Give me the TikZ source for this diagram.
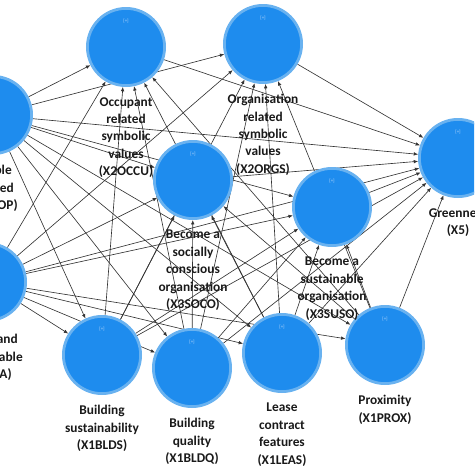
\documentclass[tikz,border=0pt]{standalone}
\usepackage{fontspec}
\setmainfont{Carlito}
\usetikzlibrary{arrows.meta,positioning,backgrounds}
\definecolor{lvfill}{RGB}{30,140,238}
\definecolor{lvrim}{RGB}{105,178,240}
\definecolor{plustext}{RGB}{175,212,250}
\tikzset{
  lv/.style={circle,fill=lvfill,draw=lvrim,line width=0.7mm,minimum size=19.3mm,inner sep=0pt,
    label={[plusmark,anchor=center,label distance=-3.5mm]90:{[+]}}},
  plusmark/.style={font=\fontsize{3.5}{4}\selectfont,text=plustext,inner sep=0pt},
  lvtext/.style={align=center,inner sep=0pt,text=black!90,font=\fontsize{9.5}{12.4}\selectfont\bfseries},
  conn/.style={draw=black!80,line width=0.45pt,-{Latex[length=1.1mm,width=0.9mm]}}
}
\begin{document}
\begin{tikzpicture}[x=0.25mm,y=-0.25mm]
\useasboundingbox (0,0) rectangle (474,474);
\clip (0,0) rectangle (474,474);
% latent variables
\node[lv] (lt) at (-7,115) {};
\node[lv] (lb) at (-13,282) {};
\node[lv] (occu) at (126,47) {};
\node[lv] (orgs) at (263,44) {};
\node[lv] (soco) at (193,180) {};
\node[lv] (suso) at (332,207) {};
\node[lv] (green) at (458,158) {};
\node[lv] (blds) at (102,355) {};
\node[lv] (bldq) at (192,368) {};
\node[lv] (leas) at (282,353) {};
\node[lv] (prox) at (385,345) {};
% names
\node[lvtext,align=right,anchor=north east] (lt-l) at (18,165) {ple\kern1.5mm\\ed\kern1mm\\OP)};
\node[lvtext,align=right,anchor=north east] (lb-l) at (23,334) {and\kern1.25mm\\able\\A)\kern2.75mm};
\node[lvtext,below=2.5mm of occu] (occu-l) {Occupant\\related\\symbolic\\values\\(X2OCCU)};
\node[lvtext,below=2.5mm of orgs] (orgs-l) {Organisation\\related\\symbolic\\values\\(X2ORGS)};
\node[lvtext,below=2.5mm of soco] (soco-l) {Become a\\socially\\conscious\\organisation\\(X3SOCO)};
\node[lvtext,below=2.5mm of suso] (suso-l) {Become a\\sustainable\\organisation\\(X3SUSO)};
\node[lvtext,below=2.5mm of green] (green-l) {Greenness\\(X5)};
\node[lvtext,below=2.5mm of blds] (blds-l) {Building\\sustainability\\(X1BLDS)};
\node[lvtext,below=2.5mm of bldq] (bldq-l) {Building\\quality\\(X1BLDQ)};
\node[lvtext,below=2.5mm of leas] (leas-l) {Lease\\contract\\features\\(X1LEAS)};
\node[lvtext,below=2.5mm of prox] (prox-l) {Proximity\\(X1PROX)};
% paths
\begin{scope}[on background layer]
\draw[conn] (lt) -- (occu);
\draw[conn] (lt) -- (orgs);
\draw[conn] (lt) -- (soco);
\draw[conn] (lt) -- (suso);
\draw[conn] (lt) -- (green);
\draw[conn] (lt) -- (blds);
\draw[conn] (lt) -- (bldq);
\draw[conn] (lt) -- (leas);
\draw[conn] (lt) -- (prox);
\draw[conn] (lb) -- (occu);
\draw[conn] (lb) -- (orgs);
\draw[conn] (lb) -- (soco);
\draw[conn] (lb) -- (suso);
\draw[conn] (lb) -- (green);
\draw[conn] (lb) -- (blds);
\draw[conn] (lb) -- (bldq);
\draw[conn] (lb) -- (leas);
\draw[conn] (lb) -- (prox);
\draw[conn] (blds) -- (occu);
\draw[conn] (blds) -- (orgs);
\draw[conn] (blds) -- (soco);
\draw[conn] (blds) -- (suso);
\draw[conn] (blds) -- (green);
\draw[conn] (bldq) -- (occu);
\draw[conn] (bldq) -- (orgs);
\draw[conn] (bldq) -- (soco);
\draw[conn] (bldq) -- (suso);
\draw[conn] (bldq) -- (green);
\draw[conn] (leas) -- (occu);
\draw[conn] (leas) -- (orgs);
\draw[conn] (leas) -- (soco);
\draw[conn] (leas) -- (suso);
\draw[conn] (leas) -- (green);
\draw[conn] (prox) -- (occu);
\draw[conn] (prox) -- (orgs);
\draw[conn] (prox) -- (soco);
\draw[conn] (prox) -- (suso);
\draw[conn] (prox) -- (green);
\draw[conn] (occu) -- (green);
\draw[conn] (orgs) -- (green);
\draw[conn] (soco) -- (green);
\draw[conn] (suso) -- (green);
\end{scope}
\end{tikzpicture}
\end{document}
